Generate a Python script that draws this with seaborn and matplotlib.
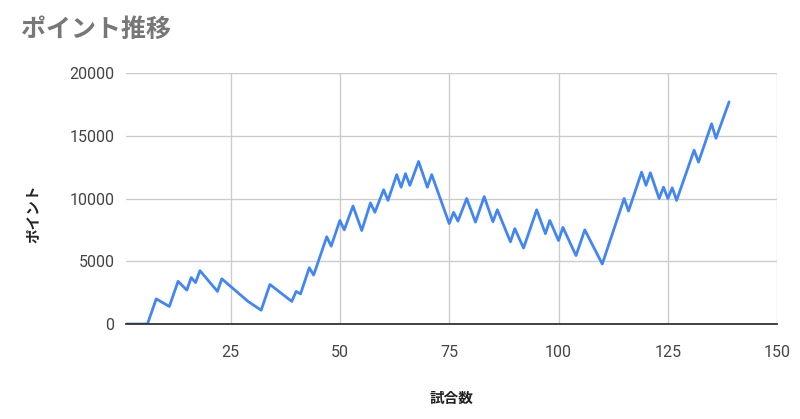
import matplotlib
matplotlib.use("Agg")
import matplotlib.pyplot as plt
import seaborn as sns
import pandas as pd

# 試合数 / ポイント (折れ点のみ、画像から読み取り)
games = [1, 6, 8, 11, 13, 15, 16, 17, 18, 22, 23, 26, 29, 32, 34, 39, 40, 41,
         43, 44, 47, 48, 50, 51, 53, 55, 57, 58, 60, 61, 63, 64, 65, 66, 68,
         70, 71, 75, 76, 77, 79, 81, 83, 85, 86, 89, 90, 92, 95, 97, 98, 100,
         101, 104, 106, 110, 115, 116, 119, 120, 121, 123, 124, 125, 126, 127,
         131, 132, 135, 136, 139]
points = [0, 0, 2000, 1400, 3400, 2700, 3700, 3300, 4250, 2600, 3600, 2700,
          1800, 1100, 3150, 1800, 2600, 2400, 4480, 3900, 6950, 6200, 8250,
          7500, 9400, 7450, 9650, 8900, 10700, 9850, 11900, 10900, 11980,
          11050, 12950, 10900, 11900, 8000, 8900, 8200, 10000, 8120, 10150,
          8150, 9100, 6550, 7600, 6050, 9100, 7200, 8250, 6650, 7700, 5450,
          7500, 4780, 10000, 9000, 12100, 11050, 12050, 10000, 10900, 10000,
          10850, 9850, 13850, 12900, 15950, 14800, 17700]

x_ticks = [25, 50, 75, 100, 125, 150]
y_ticks = [0, 5000, 10000, 15000, 20000]

title = "ポイント推移"
x_label = "試合数"
y_label = "ポイント"

df = pd.DataFrame({"games": games, "points": points})

sns.set_theme(style="white")
plt.rcParams['font.family'] = ['Roboto', 'Noto Sans CJK JP', 'DejaVu Sans']

fig = plt.figure(figsize=(8, 4.19), dpi=100)
ax = fig.add_axes([0.157, 0.2267, 0.8145, 0.5991])

sns.lineplot(data=df, x="games", y="points", ax=ax, color="#4285F4",
             linewidth=2.0, zorder=3)

ax.set_xlim(1, 150)
ax.set_ylim(0, 20000)
ax.set_xticks(x_ticks)
ax.set_yticks(y_ticks)
ax.set_xticklabels([str(t) for t in x_ticks])
ax.set_yticklabels([str(t) for t in y_ticks])

ax.grid(True, color="#cccccc", linewidth=1.0, zorder=0)
for s in ["top", "right", "left"]:
    ax.spines[s].set_visible(False)
ax.spines["bottom"].set_color("#333333")
ax.spines["bottom"].set_linewidth(1.3)
ax.spines["bottom"].set_zorder(4)

ax.tick_params(axis="x", direction="inout", length=12, width=1.0,
               color="#333333", labelsize=11.5, labelcolor="#444444", pad=9)
ax.tick_params(axis="y", length=0, labelsize=11.5, labelcolor="#444444", pad=8)

ax.set_xlabel(x_label, fontsize=10.5, fontweight="bold", color="#222222",
              labelpad=23)
ax.set_ylabel(y_label, fontsize=10.5, fontweight="bold", color="#222222")
ax.yaxis.set_label_coords(-0.13, 0.44)

fig.text(0.026, 0.928, title, fontsize=18, fontweight="bold", color="#777777",
         ha="left", va="center")

fig.savefig("out.png", dpi=100)
